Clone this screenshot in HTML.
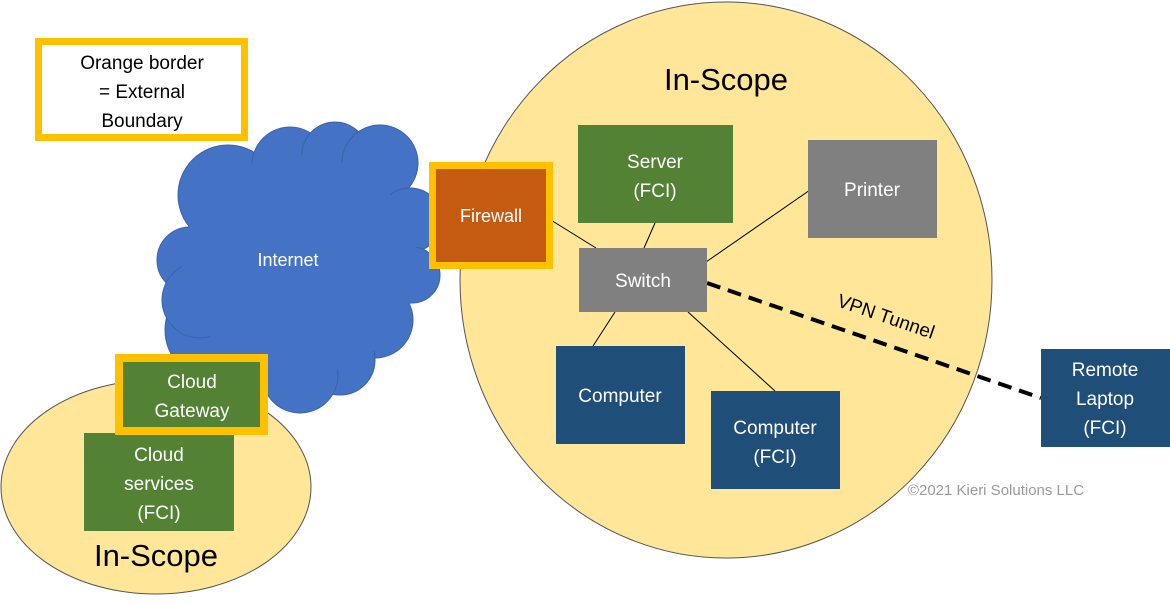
<!DOCTYPE html>
<html><head><meta charset="utf-8"><style>
body{margin:0;width:1170px;height:599px;overflow:hidden;background:#fff;font-family:"Liberation Sans",Calibri,sans-serif}
</style></head><body>
<svg width="1170" height="599" viewBox="0 0 1170 599" xmlns="http://www.w3.org/2000/svg" font-family="Liberation Sans, sans-serif">
<ellipse cx="726" cy="280" rx="266" ry="278" fill="#ffe699" stroke="#555" stroke-width="1"/>
<ellipse cx="156" cy="487" rx="155" ry="107" fill="#ffe699" stroke="#555" stroke-width="1"/>
<g fill="#4472c4" stroke="#3a62a8" stroke-width="1">
<circle cx="228" cy="195" r="50"/><circle cx="290" cy="165" r="38"/><circle cx="335" cy="155" r="33"/><circle cx="380" cy="163" r="38"/>
<circle cx="410" cy="220" r="32"/><circle cx="412" cy="275" r="28"/><circle cx="375" cy="320" r="38"/><circle cx="340" cy="360" r="35"/>
<circle cx="300" cy="375" r="38"/><circle cx="215" cy="330" r="50"/><circle cx="190" cy="260" r="33"/><circle cx="200" cy="300" r="38"/>
</g>
<g fill="#4472c4"><ellipse cx="300" cy="265" rx="118" ry="110"/></g>
<text x="288" y="266" fill="#fff" font-size="18" text-anchor="middle">Internet</text>
<g stroke="#000" stroke-width="1">
<line x1="546" y1="217" x2="596" y2="248"/><line x1="655" y1="223" x2="644" y2="248"/>
<line x1="810" y1="190" x2="706" y2="262"/><line x1="615" y1="312" x2="593" y2="346"/>
<line x1="688" y1="312" x2="775" y2="391"/>
</g>
<line x1="707" y1="283" x2="1041" y2="398" stroke="#000" stroke-width="4" stroke-dasharray="14,8"/>
<text x="0" y="0" font-size="19" transform="translate(836,306) rotate(19)">VPN Tunnel</text>
<rect x="38.5" y="41.5" width="206" height="96" fill="#fff" stroke="#ffc000" stroke-width="7"/>
<g font-size="19" text-anchor="middle" fill="#000"><text x="142" y="69">Orange border</text><text x="142" y="98">= External</text><text x="142" y="127">Boundary</text></g>
<rect x="432.5" y="165.5" width="117" height="100" fill="#c55a11" stroke="#ffc000" stroke-width="7"/>
<text x="491" y="222" font-size="18" fill="#fff" text-anchor="middle">Firewall</text>
<rect x="578" y="125" width="155" height="98" fill="#548235"/>
<g font-size="19" fill="#fff" text-anchor="middle"><text x="655" y="168">Server</text><text x="655" y="197">(FCI)</text></g>
<rect x="808" y="140" width="129" height="98" fill="#808080"/>
<text x="872" y="196" font-size="19" fill="#fff" text-anchor="middle">Printer</text>
<rect x="579" y="248" width="128" height="64" fill="#808080"/>
<text x="643" y="287" font-size="19" fill="#fff" text-anchor="middle">Switch</text>
<rect x="556" y="346" width="129" height="98" fill="#1f4e79"/>
<text x="620" y="402" font-size="19" fill="#fff" text-anchor="middle">Computer</text>
<rect x="711" y="391" width="129" height="98" fill="#1f4e79"/>
<g font-size="19" fill="#fff" text-anchor="middle"><text x="775" y="434">Computer</text><text x="775" y="463">(FCI)</text></g>
<rect x="1041" y="349" width="129" height="98" fill="#1f4e79"/>
<g font-size="19" fill="#fff" text-anchor="middle"><text x="1105" y="376">Remote</text><text x="1105" y="405">Laptop</text><text x="1105" y="434">(FCI)</text></g>
<rect x="84" y="433" width="150" height="98" fill="#548235"/>
<g font-size="19" fill="#fff" text-anchor="middle"><text x="159" y="461">Cloud</text><text x="159" y="490">services</text><text x="159" y="519">(FCI)</text></g>
<rect x="119" y="358" width="145" height="73" fill="#548235" stroke="#ffc000" stroke-width="8"/>
<g font-size="19" fill="#fff" text-anchor="middle"><text x="192" y="388">Cloud</text><text x="192" y="417">Gateway</text></g>
<text x="726" y="90" font-size="31" text-anchor="middle" fill="#000">In-Scope</text>
<text x="156" y="566" font-size="31" text-anchor="middle" fill="#000">In-Scope</text>
<text x="996" y="495" font-size="15" text-anchor="middle" fill="#999">©2021 Kieri Solutions LLC</text>
</svg>
</body></html>
